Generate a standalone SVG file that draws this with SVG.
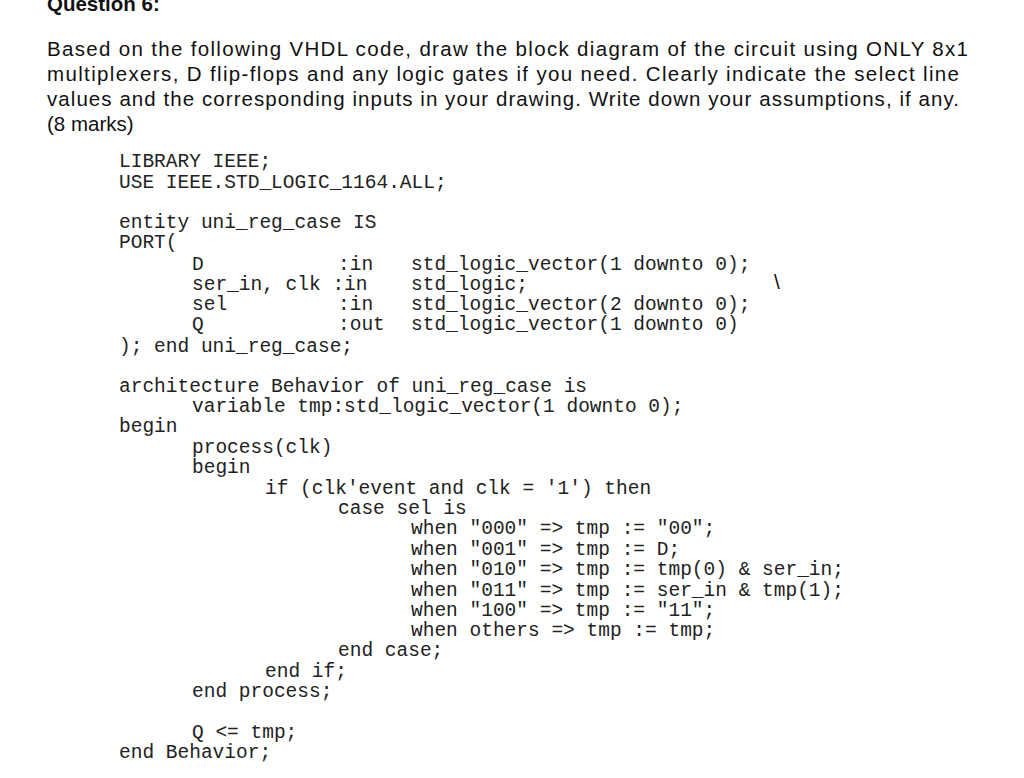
<svg xmlns="http://www.w3.org/2000/svg" width="1024" height="778" viewBox="0 0 1024 778">
<style>
.p{font-family:"Liberation Sans",Arial,sans-serif;font-size:20.5px;fill:#111}
.c{font-family:"Liberation Mono","Courier New",monospace;font-size:19.5px;fill:#222}
</style>
<rect width="1024" height="778" fill="#fff"/>
<text x="47" y="11" class="p" font-weight="bold" font-size="21">Question 6:</text>
<text x="47" y="56" class="p" textLength="921" lengthAdjust="spacing">Based on the following VHDL code, draw the block diagram of the circuit using ONLY 8x1</text>
<text x="47" y="81" class="p" textLength="912" lengthAdjust="spacing">multiplexers, D flip-flops and any logic gates if you need. Clearly indicate the select line</text>
<text x="47" y="106" class="p" textLength="912" lengthAdjust="spacing">values and the corresponding inputs in your drawing. Write down your assumptions, if any.</text>
<text x="47" y="131" class="p">(8 marks)</text>
<g class="c">
<text x="119" y="167">LIBRARY IEEE;</text>
<text x="119" y="188">USE IEEE.STD_LOGIC_1164.ALL;</text>
<text x="119" y="228">entity uni_reg_case IS</text>
<text x="119" y="248">PORT(</text>
<text x="192" y="270">D</text><text x="338" y="270">:in</text><text x="411" y="270">std_logic_vector(1 downto 0);</text>
<text x="192" y="290">ser_in, clk :in</text><text x="411" y="290">std_logic;</text>
<text x="192" y="310">sel</text><text x="338" y="310">:in</text><text x="411" y="310">std_logic_vector(2 downto 0);</text>
<text x="192" y="330">Q</text><text x="338" y="330">:out</text><text x="411" y="330">std_logic_vector(1 downto 0)</text>
<text x="119" y="352">); end uni_reg_case;</text>
<text x="119" y="392">architecture Behavior of uni_reg_case is</text>
<text x="192" y="412">variable tmp:std_logic_vector(1 downto 0);</text>
<text x="119" y="432">begin</text>
<text x="192" y="453">process(clk)</text>
<text x="192" y="473">begin</text>
<text x="265" y="494">if (clk'event and clk = '1') then</text>
<text x="338" y="514">case sel is</text>
<text x="411" y="534">when "000" =&gt; tmp := "00";</text>
<text x="411" y="555">when "001" =&gt; tmp := D;</text>
<text x="411" y="575">when "010" =&gt; tmp := tmp(0) &amp; ser_in;</text>
<text x="411" y="596">when "011" =&gt; tmp := ser_in &amp; tmp(1);</text>
<text x="411" y="616">when "100" =&gt; tmp := "11";</text>
<text x="411" y="636">when others =&gt; tmp := tmp;</text>
<text x="338" y="656">end case;</text>
<text x="265" y="677">end if;</text>
<text x="192" y="697">end process;</text>
<text x="192" y="738">Q &lt;= tmp;</text>
<text x="119" y="758">end Behavior;</text>
</g>
<text x="774" y="289" class="p" font-size="12" fill="#666">\</text>
</svg>
